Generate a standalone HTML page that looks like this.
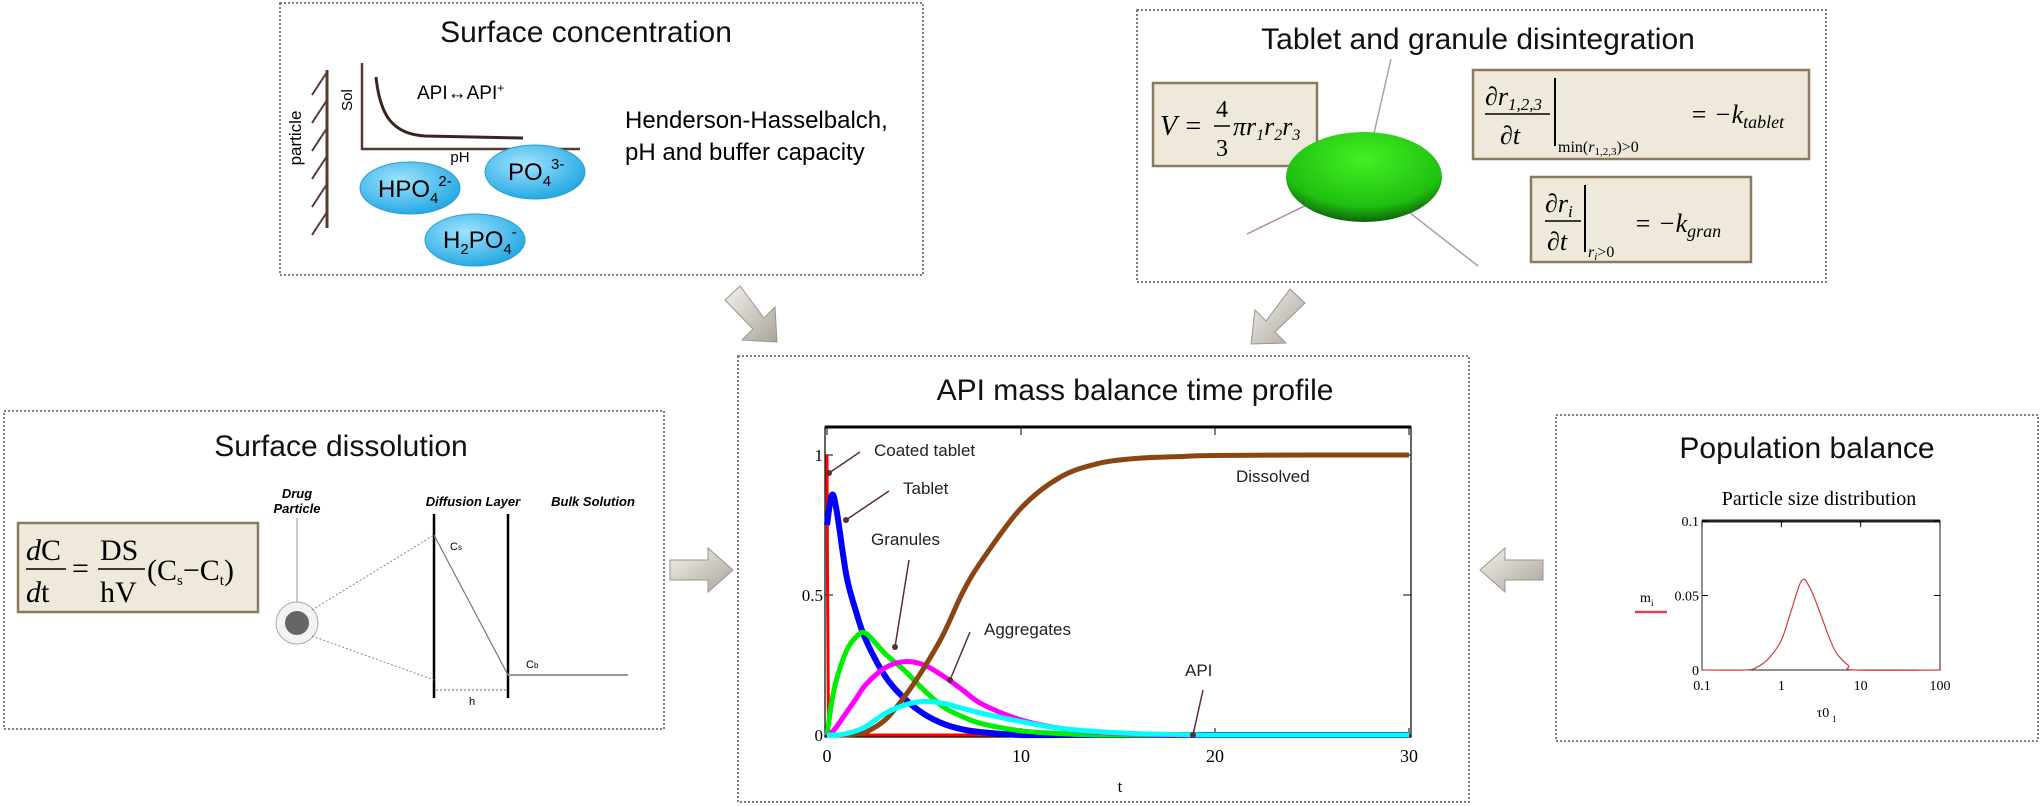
<!DOCTYPE html>
<html><head><meta charset="utf-8"><style>
body{margin:0;background:#fff;}
svg{display:block;font-family:"Liberation Sans",sans-serif;}
.box{fill:none;stroke:#555;stroke-width:1.5;stroke-dasharray:2 2;}
.ttl{font-size:30px;fill:#111;text-anchor:middle;}
.frm{fill:#efe9dc;stroke:#8a7a60;stroke-width:2.5;}
.ser{font-family:"Liberation Serif",serif;}
</style></head><body>
<svg id="page" width="2042" height="806" viewBox="0 0 2042 806">
<defs>
<radialGradient id="blue" cx="0.4" cy="0.35" r="0.7"><stop offset="0" stop-color="#9fe4ff"/><stop offset="1" stop-color="#1ea5e0"/></radialGradient>
<radialGradient id="green" cx="0.5" cy="0.3" r="0.75"><stop offset="0" stop-color="#44f022"/><stop offset="0.7" stop-color="#1fc010"/><stop offset="1" stop-color="#0a4a08"/></radialGradient>
<linearGradient id="arr" x1="0" y1="0" x2="1" y2="1"><stop offset="0" stop-color="#f4f2ee"/><stop offset="1" stop-color="#a9a49a"/></linearGradient>
</defs>

<!-- Surface concentration -->
<g>
<rect class="box" x="280" y="3" width="643" height="272"/>
<text class="ttl" x="586" y="42">Surface concentration</text>
<line x1="327" y1="70" x2="327" y2="228" stroke="#5a3a30" stroke-width="3"/>
<g stroke="#5a3a30" stroke-width="2">
<line x1="327" y1="72" x2="312" y2="95"/><line x1="327" y1="100" x2="312" y2="123"/><line x1="327" y1="128" x2="312" y2="151"/><line x1="327" y1="156" x2="312" y2="179"/><line x1="327" y1="184" x2="312" y2="207"/><line x1="327" y1="212" x2="312" y2="235"/>
</g>
<text x="301" y="138" font-size="17" transform="rotate(-90 301 138)" text-anchor="middle">particle</text>
<polyline points="362,63 362,149 580,149" fill="none" stroke="#5a3a30" stroke-width="2.5"/>
<path d="M376,77 C380,115 392,134 425,136 L523,138" fill="none" stroke="#3a2520" stroke-width="3"/>
<text x="352" y="100" font-size="15" transform="rotate(-90 352 100)" text-anchor="middle">Sol</text>
<text x="460" y="162" font-size="15" text-anchor="middle">pH</text>
<text x="417" y="99" font-size="19">API↔API<tspan font-size="12" dy="-7">+</tspan></text>
<ellipse cx="410" cy="188" rx="50" ry="26" fill="url(#blue)" stroke="#2a9fd0"/>
<ellipse cx="535" cy="172" rx="50" ry="27" fill="url(#blue)" stroke="#2a9fd0"/>
<ellipse cx="475" cy="240" rx="50" ry="26" fill="url(#blue)" stroke="#2a9fd0"/>
<text x="378" y="197" font-size="24">HPO<tspan font-size="15" dy="6">4</tspan><tspan font-size="15" dy="-17">2-</tspan></text>
<text x="508" y="180" font-size="24">PO<tspan font-size="15" dy="6">4</tspan><tspan font-size="15" dy="-17">3-</tspan></text>
<text x="443" y="248" font-size="24">H<tspan font-size="15" dy="6">2</tspan><tspan dy="-6">PO</tspan><tspan font-size="15" dy="6">4</tspan><tspan font-size="15" dy="-17">-</tspan></text>
<text x="625" y="128" font-size="24">Henderson-Hasselbalch,</text>
<text x="625" y="160" font-size="24">pH and buffer capacity</text>
</g>

<!-- Tablet and granule -->
<g>
<rect class="box" x="1137" y="10" width="689" height="272"/>
<text class="ttl" x="1478" y="49">Tablet and granule disintegration</text>
<line x1="1364" y1="177" x2="1391" y2="59" stroke="#a8a0b0" stroke-width="1.5"/>
<line x1="1364" y1="177" x2="1247" y2="234" stroke="#b08a9a" stroke-width="1.5"/>
<line x1="1364" y1="177" x2="1478" y2="266" stroke="#a8a0b0" stroke-width="1.5"/>
<rect class="frm" x="1153" y="83" width="164" height="83"/>
<text class="ser" x="1160" y="135" font-size="28" font-style="italic">V =</text>
<text class="ser" x="1222" y="117" font-size="24" text-anchor="middle">4</text>
<line x1="1214" y1="126" x2="1230" y2="126" stroke="#000" stroke-width="1.5"/>
<text class="ser" x="1222" y="156" font-size="24" text-anchor="middle">3</text>
<text class="ser" x="1233" y="135" font-size="26" font-style="italic">πr<tspan font-size="16" dy="5">1</tspan><tspan dy="-5">r</tspan><tspan font-size="16" dy="5">2</tspan><tspan dy="-5">r</tspan><tspan font-size="16" dy="5">3</tspan></text>
<ellipse cx="1364" cy="177" rx="78" ry="45" fill="url(#green)"/>
<rect class="frm" x="1473" y="70" width="336" height="89"/>
<text class="ser" x="1485" y="105" font-size="26" font-style="italic">∂r<tspan font-size="17" dy="5">1,2,3</tspan></text>
<line x1="1485" y1="114" x2="1550" y2="114" stroke="#000" stroke-width="1.5"/>
<text class="ser" x="1500" y="144" font-size="26" font-style="italic">∂t</text>
<line x1="1555" y1="78" x2="1555" y2="146" stroke="#000" stroke-width="2"/>
<text class="ser" x="1558" y="152" font-size="16">min(<tspan font-style="italic">r</tspan><tspan font-size="11" dy="3">1,2,3</tspan><tspan dy="-3">)&gt;0</tspan></text>
<text class="ser" x="1690" y="123" font-size="26" font-style="italic">= −k<tspan font-size="18" dy="5">tablet</tspan></text>
<rect class="frm" x="1531" y="177" width="220" height="85"/>
<text class="ser" x="1545" y="212" font-size="26" font-style="italic">∂r<tspan font-size="17" dy="5">i</tspan></text>
<line x1="1545" y1="221" x2="1581" y2="221" stroke="#000" stroke-width="1.5"/>
<text class="ser" x="1547" y="250" font-size="26" font-style="italic">∂t</text>
<line x1="1585" y1="185" x2="1585" y2="252" stroke="#000" stroke-width="2"/>
<text class="ser" x="1588" y="257" font-size="16" font-style="italic">r<tspan font-size="11" dy="3">i</tspan><tspan dy="-3" font-style="normal">&gt;0</tspan></text>
<text class="ser" x="1634" y="232" font-size="26" font-style="italic">= −k<tspan font-size="18" dy="5">gran</tspan></text>
</g>

<!-- arrows -->
<polygon points="725,300 740,286 764,318 775,307 777,342 742,340 753,329" fill="url(#arr)" stroke="#9b968a"/>
<polygon points="1305,303 1290,289 1266,321 1255,310 1251,344 1286,343 1275,332" fill="url(#arr)" stroke="#9b968a"/>
<polygon points="670,560 708,560 708,548 733,570 708,592 708,580 670,580" fill="url(#arr)" stroke="#9b968a"/>
<polygon points="1543,560 1505,560 1505,548 1480,570 1505,592 1505,580 1543,580" fill="url(#arr)" stroke="#9b968a"/>

<!-- Surface dissolution -->
<g>
<rect class="box" x="4" y="411" width="660" height="318"/>
<text class="ttl" x="341" y="456">Surface dissolution</text>
<rect class="frm" x="18" y="523" width="240" height="89"/>
<text class="ser" x="26" y="560" font-size="30"><tspan font-style="italic">d</tspan>C</text>
<line x1="26" y1="569" x2="66" y2="569" stroke="#000" stroke-width="1.5"/>
<text class="ser" x="26" y="602" font-size="30"><tspan font-style="italic">d</tspan>t</text>
<text class="ser" x="72" y="578" font-size="30">=</text>
<text class="ser" x="100" y="560" font-size="30">DS</text>
<line x1="98" y1="569" x2="145" y2="569" stroke="#000" stroke-width="1.5"/>
<text class="ser" x="100" y="602" font-size="30">hV</text>
<text class="ser" x="147" y="580" font-size="30">(C<tspan font-size="15" dy="5">s</tspan><tspan dy="-5">−C</tspan><tspan font-size="15" dy="5">t</tspan><tspan dy="-5">)</tspan></text>
<text x="297" y="498" font-size="13" font-weight="bold" font-style="italic" text-anchor="middle">Drug</text>
<text x="297" y="513" font-size="13" font-weight="bold" font-style="italic" text-anchor="middle">Particle</text>
<line x1="297" y1="518" x2="297" y2="603" stroke="#999"/>
<circle cx="297" cy="623" r="21" fill="#f3f3f3" stroke="#aaa"/>
<circle cx="297" cy="623" r="12" fill="#666"/>
<text x="473" y="506" font-size="13" font-weight="bold" font-style="italic" text-anchor="middle">Diffusion Layer</text>
<text x="593" y="506" font-size="13" font-weight="bold" font-style="italic" text-anchor="middle">Bulk Solution</text>
<line x1="434" y1="514" x2="434" y2="698" stroke="#000" stroke-width="2.5"/>
<line x1="508" y1="514" x2="508" y2="698" stroke="#000" stroke-width="2.5"/>
<line x1="312" y1="610" x2="434" y2="535" stroke="#888" stroke-dasharray="2 2"/>
<line x1="312" y1="636" x2="434" y2="680" stroke="#888" stroke-dasharray="2 2"/>
<line x1="434" y1="535" x2="508" y2="675" stroke="#777" stroke-width="1.2"/>
<line x1="508" y1="675" x2="628" y2="675" stroke="#999" stroke-width="2"/>
<line x1="436" y1="690" x2="506" y2="690" stroke="#666" stroke-dasharray="2 2"/>
<text x="472" y="705" font-size="11" text-anchor="middle">h</text>
<text x="450" y="550" font-size="11">C<tspan font-size="8">s</tspan></text>
<text x="526" y="668" font-size="11">C<tspan font-size="8">b</tspan></text>
</g>

<!-- Main chart -->
<g>
<rect class="box" x="738" y="356" width="731" height="446"/>
<text class="ttl" x="1135" y="400">API mass balance time profile</text>
<g id="chart"></g>
</g>

<!-- Population balance -->
<g>
<rect class="box" x="1556" y="415" width="482" height="326"/>
<text class="ttl" x="1807" y="458">Population balance</text>
<text class="ser" x="1819" y="505" font-size="20" text-anchor="middle">Particle size distribution</text>
<g id="psd"></g>
</g>
</svg>
<script>
var NS='http://www.w3.org/2000/svg';
function mk(p,tag,a,txt){var e=document.createElementNS(NS,tag);for(var k in a)e.setAttribute(k,a[k]);if(txt!==undefined)e.textContent=txt;p.appendChild(e);return e;}
function smooth(pts){
  var d='M'+pts[0][0]+','+pts[0][1];
  for(var i=0;i<pts.length-1;i++){
    var p0=pts[Math.max(0,i-1)],p1=pts[i],p2=pts[i+1],p3=pts[Math.min(pts.length-1,i+2)];
    var c1x=p1[0]+(p2[0]-p0[0])/6,c1y=p1[1]+(p2[1]-p0[1])/6;
    var c2x=p2[0]-(p3[0]-p1[0])/6,c2y=p2[1]-(p3[1]-p1[1])/6;
    d+=' C'+c1x+','+c1y+' '+c2x+','+c2y+' '+p2[0]+','+p2[1];
  }
  return d;
}

// ---- main chart data ----
var tVals=[0,0.25,0.5,1,1.5,2,3,4,5,6,7,8,10,12,14,16,18,20,25,30];
var coatedT=[0,0.03,0.08,17];
var coatedV=[1,0.5,0,0];
var tabletV=[0.75,0.857,0.8,0.57,0.44,0.34,0.21,0.13,0.075,0.04,0.02,0.01,0,0,0,0,0,0,0,0];
var granulesV=[0,0.12,0.2,0.3,0.35,0.363,0.29,0.23,0.16,0.1,0.065,0.04,0.015,0.005,0,0,0,0,0,0];
var aggregatesV=[0,0.01,0.03,0.08,0.13,0.18,0.24,0.262,0.25,0.21,0.16,0.11,0.054,0.024,0.01,0.004,0,0,0,0];
var apiV=[0,0,0,0.005,0.015,0.03,0.077,0.107,0.12,0.113,0.095,0.077,0.048,0.024,0.012,0.005,0.002,0,0,0];
var dissolvedV=[0,0,0,0,0.003,0.01,0.054,0.137,0.24,0.36,0.51,0.625,0.81,0.92,0.97,0.988,0.994,0.998,1,1];
var xTicks=[0,10,20,30];
var yTicks=[0,0.5,1];

var X0=827,X1=1409,Y0=735,Y1=455,FL=825,FR=1411,FT=427;
function xs(t){return X0+(X1-X0)*t/30;}
function ys(v){return Y0-(Y0-Y1)*v;}
var ch=document.getElementById('chart');
var fr=mk(ch,'rect',{x:FL,y:FT,width:FR-FL,height:Y0-FT+2,fill:'none',stroke:'#000','stroke-width':1.2});


mk(ch,'line',{x1:FL,y1:FT,x2:FR,y2:FT,stroke:'#000','stroke-width':3});
xTicks.forEach(function(t){
  var l=mk(ch,'text',{x:xs(t),y:762,'font-size':18,'text-anchor':'middle','font-family':'Liberation Serif,serif'},t);
  
  
  mk(ch,'line',{x1:xs(t),y1:Y0+2,x2:xs(t),y2:Y0-7,stroke:'#000'});
  mk(ch,'line',{x1:xs(t),y1:FT,x2:xs(t),y2:FT+8,stroke:'#000'});
});
yTicks.forEach(function(v){
  var l=mk(ch,'text',{x:FL-2,y:ys(v)+6,'font-size':17,'text-anchor':'end','font-family':'Liberation Serif,serif'},v);
  
  
  mk(ch,'line',{x1:FL,y1:ys(v),x2:FL+8,y2:ys(v),stroke:'#000'});
  mk(ch,'line',{x1:FR,y1:ys(v),x2:FR-8,y2:ys(v),stroke:'#000'});
});
var xt=mk(ch,'text',{x:1120,y:792,'font-size':17,'text-anchor':'middle','font-family':'Liberation Serif,serif'},'t');


function series(ts,vs,color,name,w,sm){
  var pts=ts.map(function(t,i){return [xs(t),ys(vs[i])];});
  var d=sm?smooth(pts):'M'+pts.map(function(p){return p[0]+','+p[1];}).join(' L');
  var pl=mk(ch,'path',{d:d,fill:'none',stroke:color,'stroke-width':w,'stroke-linejoin':'round'});
  
  
}
series(coatedT,coatedV,'#ff0000','coated-tablet-line',3,false);
series(tVals,tabletV,'#0000ff','tablet-line',6,true);
series(tVals,granulesV,'#00ee00','granules-line',5,true);
series(tVals,aggregatesV,'#ff00ff','aggregates-line',5,true);
series(tVals,dissolvedV,'#8b4513','dissolved-line',5,true);
series(tVals,apiV,'#00ffff','api-line',5,true);
function ann(tx,ty,txt,x1,y1,x2,y2,name){
  var t=mk(ch,'text',{x:tx,y:ty,'font-size':17,fill:'#222'},txt);
  
  
  if(x1!==null){mk(ch,'line',{x1:x1,y1:y1,x2:x2,y2:y2,stroke:'#5a3030','stroke-width':1.5});
  mk(ch,'circle',{cx:x2,cy:y2,r:3,fill:'#5a3030'});}
}
ann(874,456,'Coated tablet',860,452,829,473,'coated-tablet-label');
ann(903,494,'Tablet',889,491,846,520,'tablet-label');
ann(871,545,'Granules',909,560,895,647,'granules-label');
ann(984,635,'Aggregates',970,632,950,680,'aggregates-label');
ann(1236,482,'Dissolved',null,0,0,0,'dissolved-label');
ann(1185,676,'API',1203,690,1193,735,'api-label');

// ---- PSD chart ----
var psdX=[0.1,0.35,0.5,0.7,1,1.3,1.8,2.3,3,4,5,7,8.5,100];
var psdV=[0,0,0.002,0.008,0.02,0.038,0.06,0.055,0.04,0.022,0.011,0.003,0,0];
var psdXTicks=[0.1,1,10,100];
var psdYTicks=[0,0.05,0.1];
var PX0=1702,PX1=1940,PY0=670,PY1=521;
function pxs(v){return PX0+(PX1-PX0)*(Math.log10(v)+1)/3;}
function pys(v){return PY0-(PY0-PY1)*v/0.1;}
var ps=document.getElementById('psd');
mk(ps,'rect',{x:PX0,y:PY1,width:PX1-PX0,height:PY0-PY1,fill:'none',stroke:'#222'});
mk(ps,'line',{x1:PX0,y1:PY1,x2:PX1,y2:PY1,stroke:'#222','stroke-width':3});
psdXTicks.forEach(function(v){
  var l=mk(ps,'text',{x:pxs(v),y:690,'font-size':14,'text-anchor':'middle','font-family':'Liberation Serif,serif'},v);
  
  
  mk(ps,'line',{x1:pxs(v),y1:PY1,x2:pxs(v),y2:PY1+6,stroke:'#000'});
});
psdYTicks.forEach(function(v){
  var l=mk(ps,'text',{x:PX0-3,y:pys(v)+5,'font-size':14,'text-anchor':'end','font-family':'Liberation Serif,serif'},v);
  
  
  mk(ps,'line',{x1:PX0,y1:pys(v),x2:PX0+6,y2:pys(v),stroke:'#000'});
  mk(ps,'line',{x1:PX1,y1:pys(v),x2:PX1-6,y2:pys(v),stroke:'#000'});
});
var ppts=psdX.map(function(v,i){return [pxs(v),pys(psdV[i])];});
var pl=mk(ps,'path',{d:smooth(ppts),fill:'none',stroke:'#d04040','stroke-width':1.2});


var yl=mk(ps,'text',{x:1640,y:602,'font-size':14,'font-family':'Liberation Serif,serif'},'m');


mk(ps,'text',{x:1651,y:606,'font-size':9,'font-family':'Liberation Serif,serif'},'i');
mk(ps,'line',{x1:1635,y1:612,x2:1667,y2:612,stroke:'#e0405a','stroke-width':2.5});
var xl=mk(ps,'text',{x:1823,y:717,'font-size':14,'font-family':'Liberation Serif,serif','text-anchor':'middle'},'τ0');


mk(ps,'text',{x:1832,y:722,'font-size':9,'font-family':'Liberation Serif,serif'},'1');
</script>
</body></html>
